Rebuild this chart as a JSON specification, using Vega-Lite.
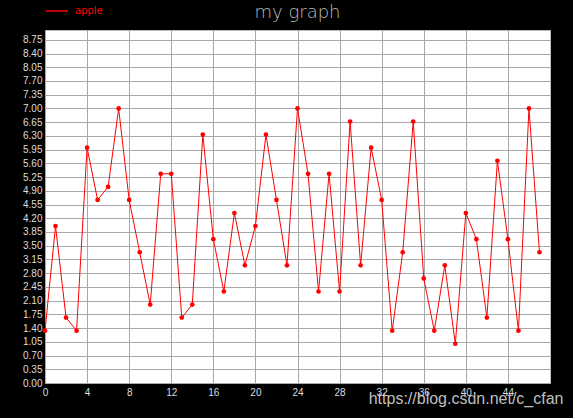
{
  "$schema": "https://vega.github.io/schema/vega-lite/v6.json",
  "width": 505,
  "height": 353,
  "autosize": {"type": "none"},
  "padding": {"left": 45, "top": 30, "right": 23, "bottom": 35},
  "background": "black",
  "view": {"fill": "white", "stroke": "#bbbbbb"},
  "title": {
    "text": "my graph",
    "anchor": "middle",
    "frame": "group",
    "color": "#bcbcbc",
    "font": "DejaVu Sans",
    "fontSize": 18,
    "fontWeight": 200,
    "baseline": "alphabetic",
    "offset": 0,
    "dy": 37
  },
  "data": {
    "values": [
      {"x": 0, "y": 1.333, "series": "apple"},
      {"x": 1, "y": 4.0, "series": "apple"},
      {"x": 2, "y": 1.667, "series": "apple"},
      {"x": 3, "y": 1.333, "series": "apple"},
      {"x": 4, "y": 6.0, "series": "apple"},
      {"x": 5, "y": 4.667, "series": "apple"},
      {"x": 6, "y": 5.0, "series": "apple"},
      {"x": 7, "y": 7.0, "series": "apple"},
      {"x": 8, "y": 4.667, "series": "apple"},
      {"x": 9, "y": 3.333, "series": "apple"},
      {"x": 10, "y": 2.0, "series": "apple"},
      {"x": 11, "y": 5.333, "series": "apple"},
      {"x": 12, "y": 5.333, "series": "apple"},
      {"x": 13, "y": 1.667, "series": "apple"},
      {"x": 14, "y": 2.0, "series": "apple"},
      {"x": 15, "y": 6.333, "series": "apple"},
      {"x": 16, "y": 3.667, "series": "apple"},
      {"x": 17, "y": 2.333, "series": "apple"},
      {"x": 18, "y": 4.333, "series": "apple"},
      {"x": 19, "y": 3.0, "series": "apple"},
      {"x": 20, "y": 4.0, "series": "apple"},
      {"x": 21, "y": 6.333, "series": "apple"},
      {"x": 22, "y": 4.667, "series": "apple"},
      {"x": 23, "y": 3.0, "series": "apple"},
      {"x": 24, "y": 7.0, "series": "apple"},
      {"x": 25, "y": 5.333, "series": "apple"},
      {"x": 26, "y": 2.333, "series": "apple"},
      {"x": 27, "y": 5.333, "series": "apple"},
      {"x": 28, "y": 2.333, "series": "apple"},
      {"x": 29, "y": 6.667, "series": "apple"},
      {"x": 30, "y": 3.0, "series": "apple"},
      {"x": 31, "y": 6.0, "series": "apple"},
      {"x": 32, "y": 4.667, "series": "apple"},
      {"x": 33, "y": 1.333, "series": "apple"},
      {"x": 34, "y": 3.333, "series": "apple"},
      {"x": 35, "y": 6.667, "series": "apple"},
      {"x": 36, "y": 2.667, "series": "apple"},
      {"x": 37, "y": 1.333, "series": "apple"},
      {"x": 38, "y": 3.0, "series": "apple"},
      {"x": 39, "y": 1.0, "series": "apple"},
      {"x": 40, "y": 4.333, "series": "apple"},
      {"x": 41, "y": 3.667, "series": "apple"},
      {"x": 42, "y": 1.667, "series": "apple"},
      {"x": 43, "y": 5.667, "series": "apple"},
      {"x": 44, "y": 3.667, "series": "apple"},
      {"x": 45, "y": 1.333, "series": "apple"},
      {"x": 46, "y": 7.0, "series": "apple"},
      {"x": 47, "y": 3.333, "series": "apple"}
    ]
  },
  "encoding": {
    "x": {
      "field": "x",
      "type": "quantitative",
      "scale": {"domain": [0, 48], "nice": false, "zero": true},
      "axis": {
        "values": [0, 4, 8, 12, 16, 20, 24, 28, 32, 36, 40, 44],
        "format": "d",
        "ticks": false,
        "domain": false,
        "labelFlush": false,
        "labelPadding": 4,
        "labelColor": "#dddddd",
        "labelFont": "Liberation Sans",
        "labelFontSize": 10,
        "gridColor": "#a8a8a8",
        "gridOpacity": 1,
        "gridWidth": 1,
        "title": "https://blog.csdn.net/c_cfan",
        "titleColor": "#d8d8d8",
        "titleOpacity": 0.9,
        "titleFont": "Liberation Sans",
        "titleFontSize": 16,
        "titleFontWeight": "normal",
        "titleAlign": "right",
        "titleAnchor": "end",
        "titleBaseline": "alphabetic",
        "titleX": 518,
        "titleY": 20
      }
    },
    "y": {
      "field": "y",
      "type": "quantitative",
      "scale": {"domain": [0, 9], "nice": false, "zero": true},
      "axis": {
        "values": [0, 0.35, 0.7, 1.05, 1.4, 1.75, 2.1, 2.45, 2.8, 3.15, 3.5, 3.85, 4.2, 4.55, 4.9, 5.25, 5.6, 5.95, 6.3, 6.65, 7.0, 7.35, 7.7, 8.05, 8.4, 8.75],
        "format": ".2f",
        "ticks": false,
        "domain": false,
        "labelPadding": 3,
        "labelColor": "#dddddd",
        "labelFont": "Liberation Sans",
        "labelFontSize": 10,
        "gridColor": "#a8a8a8",
        "gridOpacity": 1,
        "gridWidth": 1,
        "title": null
      }
    }
  },
  "layer": [
    {
      "mark": {"type": "line", "strokeWidth": 1, "clip": true},
      "encoding": {
        "color": {
          "field": "series",
          "type": "nominal",
          "scale": {"range": ["#ff0000"]},
          "legend": {
            "title": null,
            "orient": "none",
            "legendX": 0,
            "legendY": -31,
            "symbolType": "stroke",
            "symbolSize": 484,
            "symbolStrokeWidth": 1.5,
            "labelColor": "#ff0000",
            "labelFont": "DejaVu Sans",
            "labelFontSize": 10,
            "labelOffset": 6,
            "padding": 0
          }
        }
      }
    },
    {
      "mark": {"type": "point", "filled": true, "color": "#ff0000", "size": 22, "opacity": 1}
    }
  ]
}
